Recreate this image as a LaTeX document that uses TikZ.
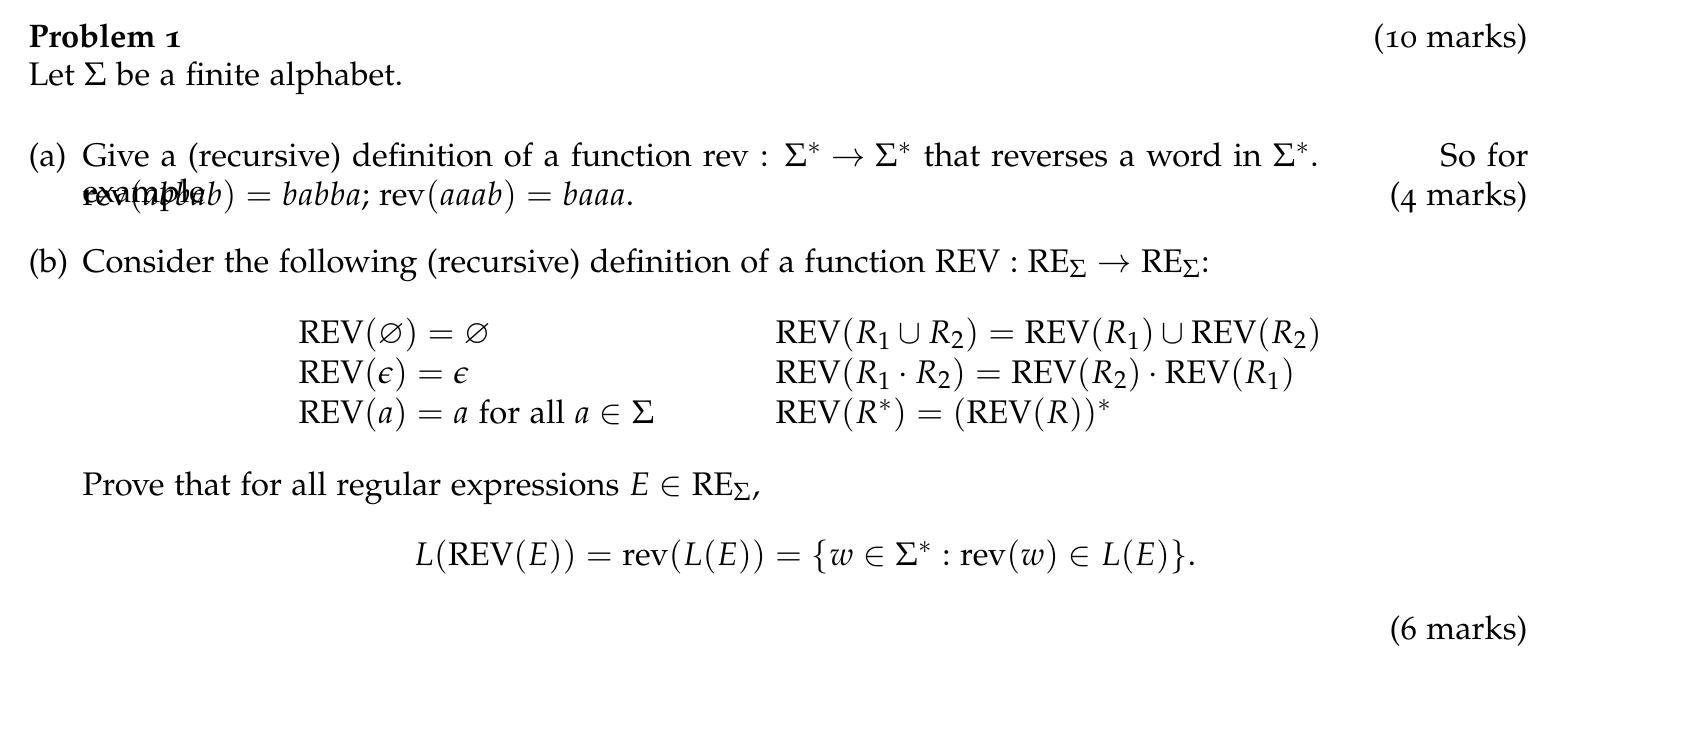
\documentclass[tikz,border=0pt]{standalone}
\usepackage[T1]{fontenc}
\usepackage[osf]{mathpazo}
\usepackage{amssymb}
\begin{document}
\begin{tikzpicture}[x=0.01355cm,y=-0.01355cm,
  t/.style={anchor=base west,inner sep=0pt,font=\fontsize{12.6}{14}\selectfont},
  r/.style={anchor=base east,inner sep=0pt,font=\fontsize{12.6}{14}\selectfont}]
\useasboundingbox (0,0) rectangle (1690,740);
\node[t] (p) at (28,47) {\textbf{Problem 1}};
\node[r] (m) at (1528,47) {(10 marks)};
\node[t] (l) at (28,85) {Let $\Sigma$ be a finite alphabet.};
\node[t] (a) at (28,166) {(a)};
\node[t,text width=1446*0.01355cm] (a1) at (82,166) {Give a (recursive) definition of a function rev : $\Sigma^*\to\Sigma^*$ that reverses a word in $\Sigma^*$.\hfill So for example};
\node[t] (a2) at (82,205) {rev$(abbab) = babba$; rev$(aaab)=baaa$.};
\node[r] (a3) at (1528,205) {(4 marks)};
\node[t] (b) at (28,272) {(b)};
\node[t] (b1) at (82,272) {Consider the following (recursive) definition of a function REV : RE$_\Sigma\to{}$RE$_\Sigma$:};
\node[t] (e1) at (298,343) {REV$(\varnothing)=\varnothing$};
\node[t] (e2) at (298,383) {REV$(\epsilon)=\epsilon$};
\node[t] (e3) at (298,423) {REV$(a)=a$ for all $a\in\Sigma$};
\node[t] (f1) at (775,343) {REV$(R_1\cup R_2)={}$REV$(R_1)\cup{}$REV$(R_2)$};
\node[t] (f2) at (775,383) {REV$(R_1\cdot R_2)={}$REV$(R_2)\cdot{}$REV$(R_1)$};
\node[t] (f3) at (775,423) {REV$(R^*)=($REV$(R))^*$};
\node[t] (pr) at (82,495) {Prove that for all regular expressions $E\in{}$RE$_\Sigma$,};
\node[anchor=base,inner sep=0pt,font=\fontsize{12.6}{14}\selectfont] (eq) at (805,565) {$L($REV$(E))={}$rev$(L(E))=\{w\in\Sigma^*:{}$rev$(w)\in L(E)\}$.};
\node[r] (m6) at (1528,639) {(6 marks)};
\end{tikzpicture}
\end{document}
